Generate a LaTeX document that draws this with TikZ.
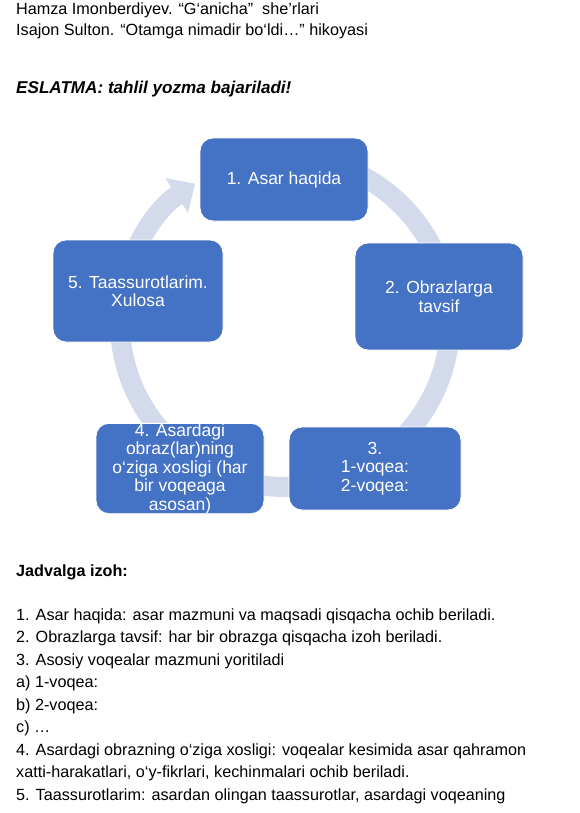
\documentclass[tikz,border=0pt]{standalone}
\usepackage{fontspec}
\setmainfont{Liberation Sans}
\usetikzlibrary{arrows.meta}
\definecolor{acc}{HTML}{4472C4}
\definecolor{ringc}{RGB}{211,218,235}

\begin{document}
\begin{tikzpicture}[x=1pt, y=1pt,
  blk/.style={draw=white, line width=0.8pt, fill=acc, rounded corners=13pt, minimum width=168pt, minimum height=83pt, inner sep=0pt, align=center, text=white, font=\fontsize{17.5}{18.5}\selectfont},
  txt/.style={anchor=base west, inner sep=0pt, font=\fontsize{16.2}{19}\selectfont},
  ring/.style={draw=ringc, line width=20pt, -{Triangle[width=40pt, length=22pt]}}]
\useasboundingbox (0,0) rectangle (580,-813);
\clip (0,0) rectangle (580,-813);
\node[txt] (t1) at (16,-15) {Hamza Imonberdiyev. “G‘anicha”\ \ she’rlari};
\node[txt] (t2) at (16,-36) {Isajon Sulton. “Otamga nimadir bo‘ldi…” hikoyasi};
\node[txt, font=\fontsize{17.1}{20}\selectfont\bfseries\itshape] (esl) at (16,-94) {ESLATMA: tahlil yozma bajariladi!};
% cycle
\draw[ring] (285,-322) ++(85:165) arc[start angle=85, end angle=-237, radius=165];
\node[blk] (s1) at (284,-179.5) {1. Asar haqida};
\node[blk, minimum height=107pt] (s2) at (439,-296.5) {2. Obrazlarga\\tavsif};
\node[blk, minimum width=172pt] (s3) at (375,-468.5) {3.\\1-voqea:\\2-voqea:};
\node[blk] (s4) at (180,-468.5) {4. Asardagi\\obraz(lar)ning\\o‘ziga xosligi (har\\bir voqeaga\\asosan)};
\node[blk, minimum width=170pt, minimum height=102pt] (s5) at (138,-291) {5. Taassurotlarim.\\Xulosa};
% izoh
\node[txt, font=\fontsize{16.2}{19}\selectfont\bfseries] (jad) at (16,-576) {Jadvalga izoh:};
\node[txt] (l1) at (16,-620) {1. Asar haqida: asar mazmuni va maqsadi qisqacha ochib beriladi.};
\node[txt] (l2) at (16,-642.5) {2. Obrazlarga tavsif: har bir obrazga qisqacha izoh beriladi.};
\node[txt] (l3) at (16,-665) {3. Asosiy voqealar mazmuni yoritiladi};
\node[txt] (l4) at (16,-687.5) {a) 1-voqea:};
\node[txt] (l5) at (16,-710) {b) 2-voqea:};
\node[txt] (l6) at (16,-732.5) {c) …};
\node[txt] (l7) at (16,-755) {4. Asardagi obrazning o‘ziga xosligi: voqealar kesimida asar qahramon};
\node[txt] (l8) at (16,-777.5) {xatti-harakatlari, o‘y-fikrlari, kechinmalari ochib beriladi.};
\node[txt] (l9) at (16,-800) {5. Taassurotlarim: asardan olingan taassurotlar, asardagi voqeaning};
\end{tikzpicture}
\end{document}
